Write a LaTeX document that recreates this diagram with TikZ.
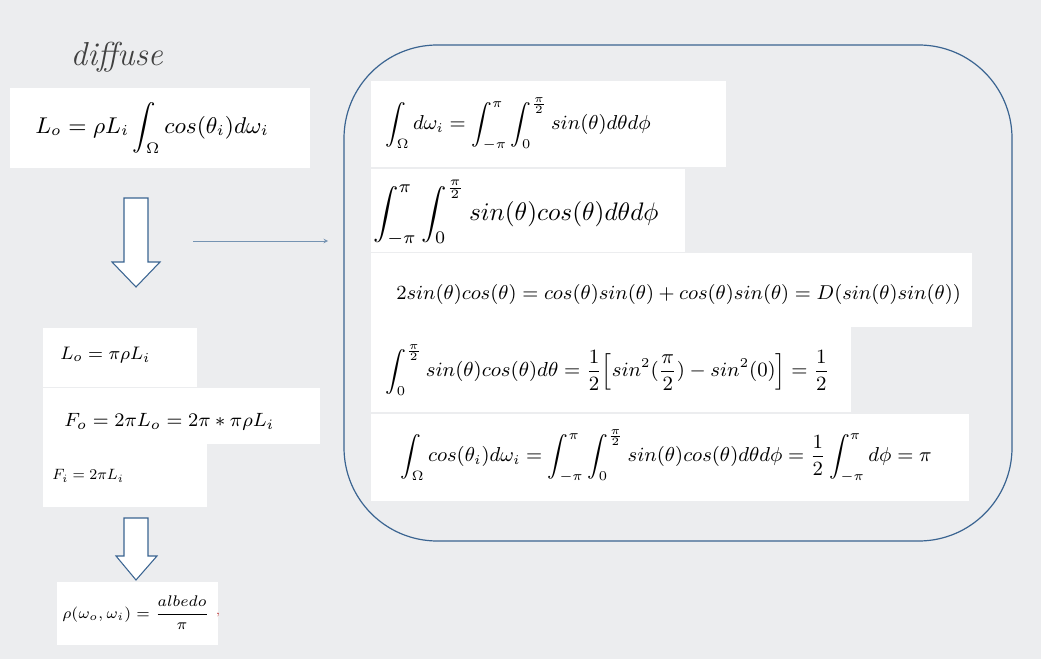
\documentclass[tikz,border=0pt]{standalone}
\usepackage{amsmath}
\usepackage{graphicx}
\begin{document}
\begin{tikzpicture}[x=0.75pt,y=-0.75pt,
  wbox/.style={fill=white,draw=none},
  hollow/.style={draw=frame,fill=white,line width=0.8pt},
  eq/.style={anchor=west,inner sep=0pt,font=\small}]
\definecolor{bg}{HTML}{ECEDEF}
\definecolor{frame}{HTML}{3A6491}
\fill[bg] (0,0) rectangle (1041,659);
\useasboundingbox (0,0) rectangle (1041,659);
\node[anchor=west,text=black!75,font=\Huge\itshape] (title) at (66,57) {diffuse};
% left column
\fill[wbox] (10,88) rectangle (310,168);
\node[eq] (e1) at (35,128) {\scalebox{1.9}{$\displaystyle L_o=\rho L_i\int_\Omega cos(\theta_i)d\omega_i$}};
\draw[hollow] (124,198) -- (148,198) -- (148,262) -- (160,262) -- (136,287) -- (112,262) -- (124,262) -- cycle;
\fill[wbox] (43,328) rectangle (197,387);
\node[eq,font=\footnotesize] (e2) at (60,355) {\scalebox{1.7}{$L_o=\pi\rho L_i$}};
\fill[wbox] (43,388) rectangle (320,444);
\node[eq,font=\footnotesize] (e3) at (64,422) {\scalebox{1.8}{$F_o=2\pi L_o=2\pi*\pi\rho L_i$}};
\fill[wbox] (43,444) rectangle (207,507);
\node[eq,font=\footnotesize] (e4) at (52,476) {\scalebox{1.4}{$F_i=2\pi L_i$}};
\draw[hollow] (124,518) -- (148,518) -- (148,556) -- (157,556) -- (136,580) -- (116,556) -- (124,556) -- cycle;
\fill[wbox] (57,582) rectangle (218,645);
\node[eq,font=\scriptsize] (e5) at (62,613) {\scalebox{1.65}{$\displaystyle \rho(\omega_o,\omega_i)=\frac{albedo}{\pi}$}};
\node[text=red!70!black,font=\small] (comma) at (218,615) {,};
% thin arrow
\coordinate (a1) at (193,241); \coordinate (a2) at (328,241);
\draw[frame!70,->,>=stealth,line width=0.5pt] (a1) -- (a2);
% big frame
\draw[frame,line width=0.9pt,rounded corners=70] (344,45) rectangle (1012,541);
\fill[wbox] (371,81) rectangle (726,167);
\node[eq] (r1) at (385,124) {\scalebox{1.68}{$\displaystyle \int_\Omega d\omega_i=\int_{-\pi}^{\pi}\int_0^{\frac{\pi}{2}} sin(\theta)d\theta d\phi$}};
\fill[wbox] (371,169) rectangle (685,252);
\node[eq,font=\normalsize] (r2) at (373,213) {\scalebox{1.9}{$\displaystyle \int_{-\pi}^{\pi}\int_0^{\frac{\pi}{2}} sin(\theta)cos(\theta)d\theta d\phi$}};
\fill[wbox] (371,253) rectangle (972,327);
\node[eq] (r3) at (396,294) {\scalebox{1.67}{$2sin(\theta)cos(\theta)=cos(\theta)sin(\theta)+cos(\theta)sin(\theta)=D(sin(\theta)sin(\theta))$}};
\fill[wbox] (371,327) rectangle (851,412);
\node[eq] (r4) at (385,370) {\scalebox{1.69}{$\displaystyle \int_0^{\frac{\pi}{2}} sin(\theta)cos(\theta)d\theta=\frac12\Big[sin^2(\frac{\pi}{2})-sin^2(0)\Big]=\frac12$}};
\fill[wbox] (371,414) rectangle (969,501);
\node[eq] (r5) at (400,456) {\scalebox{1.68}{$\displaystyle \int_\Omega cos(\theta_i)d\omega_i=\int_{-\pi}^{\pi}\int_0^{\frac{\pi}{2}} sin(\theta)cos(\theta)d\theta d\phi=\frac12\int_{-\pi}^{\pi}d\phi=\pi$}};
\end{tikzpicture}
\end{document}
